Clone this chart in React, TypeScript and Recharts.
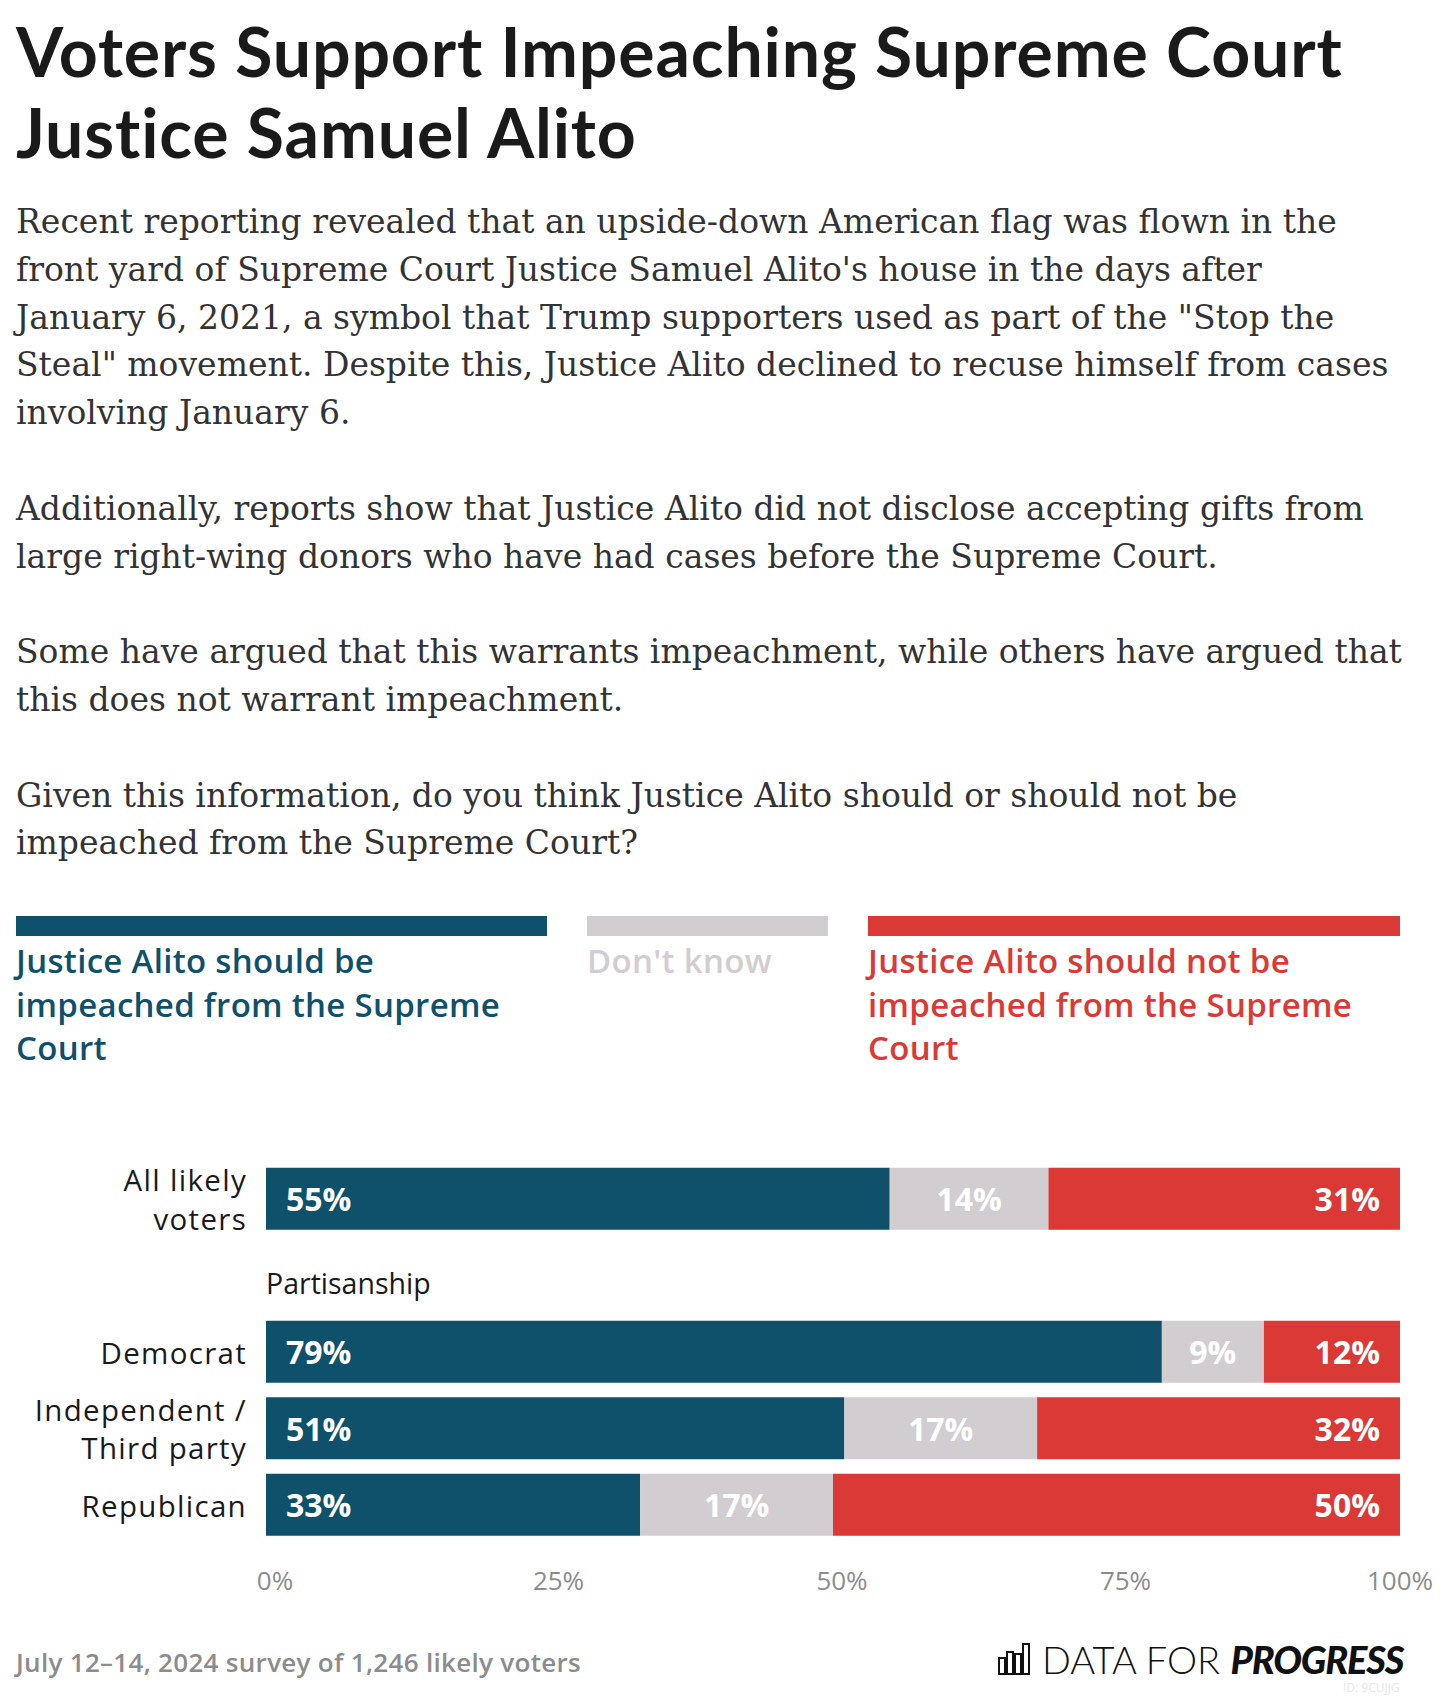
import React from "react";
import { BarChart, Bar, XAxis, YAxis, LabelList } from "recharts";

const groups = ["All likely voters", "Partisanship", "Democrat", "Independent / Third party", "Republican"];
const groupLines = [["All likely", "voters"], ["Partisanship"], ["Democrat"], ["Independent /", "Third party"], ["Republican"]];
const shouldImpeach = [55, null, 79, 51, 33];
const dontKnow = [14, null, 9, 17, 17];
const shouldNotImpeach = [31, null, 12, 32, 50];
const xTicks = [0, 25, 50, 75, 100];

const BLUE = "#0f506b";
const GRAY = "#d2cdd0";
const RED = "#db3935";
const TITLE_FONT = "Lato, 'Open Sans', sans-serif";
const SANS = "'Open Sans', Lato, sans-serif";
const SERIF = "'DejaVu Serif', serif";

const data = groups.map((group, i) => ({
  group,
  impeach: shouldImpeach[i],
  unsure: dontKnow[i],
  notImpeach: shouldNotImpeach[i],
}));

const bodyLines = [
  "Recent reporting revealed that an upside-down American flag was flown in the",
  "front yard of Supreme Court Justice Samuel Alito's house in the days after",
  "January 6, 2021, a symbol that Trump supporters used as part of the \"Stop the",
  "Steal\" movement. Despite this, Justice Alito declined to recuse himself from cases",
  "involving January 6.",
  "",
  "Additionally, reports show that Justice Alito did not disclose accepting gifts from",
  "large right-wing donors who have had cases before the Supreme Court.",
  "",
  "Some have argued that this warrants impeachment, while others have argued that",
  "this does not warrant impeachment.",
  "",
  "Given this information, do you think Justice Alito should or should not be",
  "impeached from the Supreme Court?",
];

const legendItems = [
  { lines: ["Justice Alito should be", "impeached from the Supreme", "Court"], color: BLUE, left: 16, width: 531 },
  { lines: ["Don't know"], color: GRAY, left: 587, width: 241 },
  { lines: ["Justice Alito should not be", "impeached from the Supreme", "Court"], color: RED, left: 868, width: 532 },
];

// category labels: right-aligned beside the bars, the sub-header sits left-aligned over the plot
function GroupTick(props: any) {
  const { x, y, payload } = props;
  const idx = groups.indexOf(payload.value);
  const lines = groupLines[idx] || [payload.value];
  if (payload.value === "Partisanship") {
    return (
      <text x={x} y={y + 7} dominantBaseline="central" fontFamily={SANS} fontSize={28.5} fill="#1a1a1a">
        {lines[0]}
      </text>
    );
  }
  const step = 38.5;
  const start = y - ((lines.length - 1) * step) / 2;
  return (
    <g>
      {lines.map((l, i) => (
        <text
          key={i}
          x={x - 19}
          y={start + i * step}
          textAnchor="end"
          dominantBaseline="central"
          fontFamily={SANS}
          fontSize={29.5}
          letterSpacing={1.3}
          fill="#1a1a1a"
        >
          {l}
        </text>
      ))}
    </g>
  );
}

function PctTick(props: any) {
  const { x, y, payload } = props;
  const dx = payload.value === 100 ? 0 : 9;
  return (
    <text x={x + dx} y={y + 47} textAnchor="middle" fontFamily={SANS} fontSize={26} fill="#8c8c8c">
      {payload.value}%
    </text>
  );
}

const valueText = (anchor: "start" | "middle" | "end") => (props: any) => {
  const { x, y, width, height, value } = props;
  if (value == null || value === 0) return null;
  const tx = anchor === "start" ? x + 20 : anchor === "end" ? x + width - 20 : x + width / 2;
  return (
    <text
      x={tx}
      y={y + height / 2}
      textAnchor={anchor}
      dominantBaseline="central"
      fontFamily={SANS}
      fontWeight={700}
      fontSize={32}
      fill="#ffffff"
    >
      {value}%
    </text>
  );
};

function Logo() {
  return (
    <div style={{ position: "absolute", left: 998, top: 1634, display: "flex", alignItems: "center", height: 50 }}>
      <svg width={34} height={32} style={{ marginRight: 10 }}>
        <rect x={1} y={15} width={6} height={16} fill="none" stroke="#111" strokeWidth={2} />
        <rect x={9} y={9} width={6} height={22} fill="none" stroke="#111" strokeWidth={2} />
        <rect x={17} y={11} width={6} height={20} fill="none" stroke="#111" strokeWidth={2} />
        <rect x={25} y={1} width={6} height={30} fill="none" stroke="#111" strokeWidth={2} />
      </svg>
      <span style={{ fontFamily: TITLE_FONT, fontWeight: 300, fontSize: 38, color: "#111", whiteSpace: "nowrap" }}>
        DATA FOR{" "}
        <span style={{ fontWeight: 900, fontStyle: "italic", letterSpacing: -1.2 }}>PROGRESS</span>
      </span>
    </div>
  );
}

export default function App() {
  return (
    <div
      style={{
        position: "absolute",
        left: 0,
        top: 0,
        width: 1440,
        height: 1696,
        background: "#ffffff",
        overflow: "hidden",
      }}
    >
      <div
        style={{
          position: "absolute",
          left: 16,
          top: 10,
          fontFamily: TITLE_FONT,
          fontWeight: 700,
          fontSize: 68,
          letterSpacing: 0.85,
          lineHeight: "81px",
          color: "#1a1a1a",
          whiteSpace: "nowrap",
        }}
      >
        Voters Support Impeaching Supreme Court
        <br />
        Justice Samuel Alito
      </div>

      <div
        style={{
          position: "absolute",
          left: 16,
          top: 198,
          fontFamily: SERIF,
          fontSize: 33,
          lineHeight: "47.8px",
          color: "#333333",
          whiteSpace: "nowrap",
        }}
      >
        {bodyLines.map((l, i) => (
          <div key={i} style={{ height: 47.8 }}>
            {l}
          </div>
        ))}
      </div>

      {legendItems.map((item) => (
        <div key={item.left} style={{ position: "absolute", left: item.left, top: 916, width: item.width }}>
          <div style={{ height: 20, background: item.color }} />
          <div
            style={{
              marginTop: 3,
              fontFamily: SANS,
              fontWeight: 600,
              fontSize: 33,
              letterSpacing: 0.3,
              lineHeight: "43.5px",
              color: item.color,
              whiteSpace: "nowrap",
            }}
          >
            {item.lines.map((l, i) => (
              <div key={i}>{l}</div>
            ))}
          </div>
        </div>
      ))}

      <div style={{ position: "absolute", left: 0, top: 1100 }}>
        <BarChart
          width={1440}
          height={540}
          data={data}
          layout="vertical"
          barSize={62}
          barCategoryGap={0}
          margin={{ top: 60.75, right: 40, bottom: 36.75, left: 0 }}
        >
          <XAxis
            type="number"
            domain={[0, 100]}
            ticks={xTicks}
            axisLine={false}
            tickLine={false}
            tickSize={0}
            tickMargin={0}
            height={60}
            tick={<PctTick />}
            interval={0}
          />
          <YAxis
            type="category"
            dataKey="group"
            width={266}
            axisLine={false}
            tickLine={false}
            tickSize={0}
            tickMargin={0}
            tick={<GroupTick />}
            interval={0}
          />
          <Bar dataKey="impeach" stackId="a" fill={BLUE} isAnimationActive={false}>
            <LabelList dataKey="impeach" content={valueText("start")} />
          </Bar>
          <Bar dataKey="unsure" stackId="a" fill={GRAY} isAnimationActive={false}>
            <LabelList dataKey="unsure" content={valueText("middle")} />
          </Bar>
          <Bar dataKey="notImpeach" stackId="a" fill={RED} isAnimationActive={false}>
            <LabelList dataKey="notImpeach" content={valueText("end")} />
          </Bar>
        </BarChart>
      </div>

      <div
        style={{
          position: "absolute",
          left: 16,
          top: 1644,
          fontFamily: SANS,
          fontWeight: 600,
          fontSize: 26,
          letterSpacing: 0.3,
          color: "#8c8c8c",
          whiteSpace: "nowrap",
        }}
      >
        July 12–14, 2024 survey of 1,246 likely voters
      </div>

      <Logo />

      <div
        style={{
          position: "absolute",
          left: 1343,
          top: 1679,
          fontFamily: SANS,
          fontSize: 12,
          color: "#e8e8e8",
        }}
      >
        ID: 9CUJJG
      </div>
    </div>
  );
}
